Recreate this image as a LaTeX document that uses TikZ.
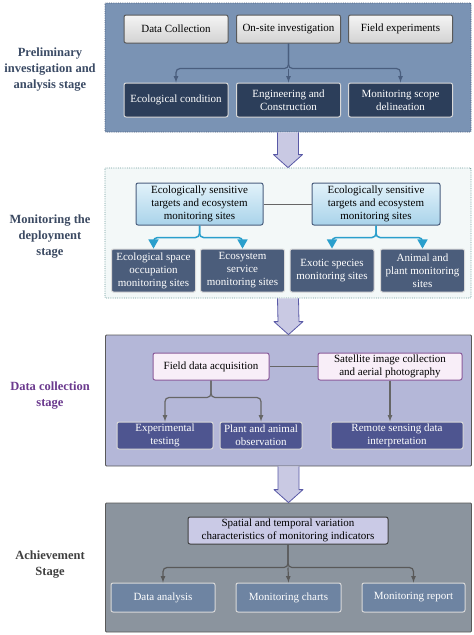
\documentclass[tikz,border=0pt]{standalone}
\usepackage{fontspec}
\setmainfont{Liberation Serif}
\usetikzlibrary{positioning,calc,arrows}

\definecolor{steel}{HTML}{7A93B4}
\definecolor{steeldark}{HTML}{4A5E7E}
\definecolor{navybox}{HTML}{2C3E5A}
\definecolor{paleteal}{HTML}{F3F8F8}
\definecolor{tealline}{HTML}{6E9C9C}
\definecolor{skytop}{HTML}{E2F2FA}
\definecolor{skybot}{HTML}{A9D3EA}
\definecolor{slatebox}{HTML}{4B5D7B}
\definecolor{cyanlink}{HTML}{2A9FCC}
\definecolor{lavender}{HTML}{B4B7D8}
\definecolor{pinkbox}{HTML}{F8EEF8}
\definecolor{plum}{HTML}{8A5A9A}
\definecolor{stageplum}{HTML}{6B3A8E}
\definecolor{indigobox}{HTML}{4E5590}
\definecolor{greypanel}{HTML}{8B949E}
\definecolor{lilacbox}{HTML}{CACAE6}
\definecolor{arrowfill}{HTML}{C9C9E3}

\begin{document}
\begin{tikzpicture}[
x=1pt,y=-1pt,
panel/.style={
  rounded corners=1pt,
  minimum width=366pt,
  minimum height=129pt,
  line width=0.8pt
},
box/.style={
  draw,
  rounded corners=2pt,
  align=center,
  inner sep=1pt,
  line width=1pt,
  font=\fontsize{11}{13}\selectfont
},
greybox/.style={
  box,
  draw=black!65,
  top color=gray!8,
  bottom color=gray!35,
  minimum width=104pt,
  minimum height=28pt
},
darkbox/.style={
  box,
  draw=white!85!black,
  text=white,
  fill=#1
},
skybox/.style={
  box,
  draw=steeldark,
  top color=skytop,
  bottom color=skybot,
  minimum height=42pt
},
pinkish/.style={
  box,
  draw=plum,
  fill=pinkbox,
  minimum height=27pt
},
stage/.style={
  align=center,
  font=\fontsize{12.5}{16}\selectfont\bfseries,
  text=#1
},
link/.style={
  draw=#1,
  line width=1.2pt,
  rounded corners=4pt,
  -latex
},
bigarrow/.style={
  draw=gray!70!blue,
  fill=arrowfill,
  line width=0.8pt,
  line join=round
}
]
\useasboundingbox (0,0) rectangle (474,635);

% stage panels
\node[panel,draw=steeldark,densely dotted,fill=steel] (p1) at (288,67.5) {};
\node[panel,draw=tealline,densely dotted,fill=paleteal,minimum height=130pt] (p2) at (288,233) {};
\node[panel,draw=black!65,fill=lavender,minimum height=131pt] (p3) at (288.5,400.5) {};
\node[panel,draw=black!65,fill=greypanel] (p4) at (288.5,567.5) {};

\node[stage=steeldark!80!black] (s1) at (50,70) {Preliminary\\investigation and\\analysis stage};
\node[stage=slatebox!80!black] (s2) at (50,237) {Monitoring the\\deployment\\stage};
\node[stage=stageplum] (s3) at (50,396) {Data collection\\stage};
\node[stage=black!75] (s4) at (50,565) {Achievement\\Stage};

% preliminary investigation
\node[greybox] (dc) at (176,29) {Data Collection};
\node[greybox] (os) at (288.5,29) {On-site investigation};
\node[greybox] (fe) at (400.5,29) {Field experiments};
\node[darkbox=navybox,minimum width=104pt,minimum height=34pt] (ec) at (176,100) {Ecological condition};
\node[darkbox=navybox,minimum width=104pt,minimum height=34pt] (en) at (288.5,100) {Engineering and\\Construction};
\node[darkbox=navybox,minimum width=104pt,minimum height=34pt] (ms) at (400.5,100) {Monitoring scope\\delineation};

\coordinate (b1) at ([yshift=-25pt]os.south);
\draw[link=steeldark] (os.south) -- (b1) -| (ec.north);
\draw[link=steeldark] (b1) -- (en.north);
\draw[link=steeldark] (os.south) -- (b1) -| (ms.north);

% monitoring deployment
\node[skybox,minimum width=127pt] (es1) at (199.5,204) {Ecologically sensitive\\targets and ecosystem\\monitoring sites};
\node[skybox,minimum width=128pt] (es2) at (376,204) {Ecologically sensitive\\targets and ecosystem\\monitoring sites};
\node[darkbox=slatebox,minimum width=84pt,minimum height=43pt] (sp) at (153.5,270.5) {Ecological space\\occupation\\monitoring sites};
\node[darkbox=slatebox,minimum width=84pt,minimum height=43pt] (sv) at (242.5,270.5) {Ecosystem\\service\\monitoring sites};
\node[darkbox=slatebox,minimum width=84pt,minimum height=43pt] (ex) at (332,270.5) {Exotic species\\monitoring sites};
\node[darkbox=slatebox,minimum width=84pt,minimum height=43pt] (ap) at (422.5,270.5) {Animal and\\plant monitoring\\sites};

\draw[draw=gray!80!black,line width=0.8pt] (es1) -- (es2);
\coordinate (b2) at ([yshift=-12pt]es1.south);
\coordinate (b3) at ([yshift=-12pt]es2.south);
\draw[link=cyanlink,line width=1.5pt,-triangle 60] (es1.south) -- (b2) -| (sp.north);
\draw[link=cyanlink,line width=1.5pt,-triangle 60] (es1.south) -- (b2) -| (sv.north);
\draw[link=cyanlink,line width=1.5pt,-triangle 60] (es2.south) -- (b3) -| (ex.north);
\draw[link=cyanlink,line width=1.5pt,-triangle 60] (es2.south) -- (b3) -| (ap.north);

% data collection
\node[pinkish,minimum width=116pt] (fd) at (211,366.5) {Field data acquisition};
\node[pinkish,minimum width=144pt] (sa) at (390,366.5) {Satellite image collection\\and aerial photography};
\node[darkbox=indigobox,minimum width=96pt,minimum height=27pt] (et) at (165,435.5) {Experimental\\testing};
\node[darkbox=indigobox,minimum width=82pt,minimum height=27pt] (pa) at (261,435.5) {Plant and animal\\observation};
\node[darkbox=indigobox,minimum width=132pt,minimum height=27pt] (rs) at (397,435.5) {Remote sensing data\\interpretation};

\draw[draw=black!60,line width=0.8pt] (fd) -- (sa);
\coordinate (b4) at ([yshift=-17pt]fd.south);
\draw[link=black!60] (fd.south) -- (b4) -| (et.north);
\draw[link=black!60] (fd.south) -- (b4) -| (pa.north);
\draw[link=black!60] (sa.south) -- (sa.south |- rs.north);

% achievement
\node[box,draw=black!75,fill=lilacbox,minimum width=200pt,minimum height=27pt] (sv2) at (288,530.5) {Spatial and temporal variation\\characteristics of monitoring indicators};
\node[darkbox=steel!90!black,minimum width=104pt,minimum height=29pt] (da) at (163,597.5) {Data analysis};
\node[darkbox=steel!90!black,minimum width=105pt,minimum height=29pt] (mc) at (288.5,597.5) {Monitoring charts};
\node[darkbox=steel!90!black,minimum width=103pt,minimum height=29pt] (mr) at (413.5,597.5) {Monitoring report};

\coordinate (b5) at ([yshift=-23pt]sv2.south);
\draw[link=black!65] (sv2.south) -- (b5) -| (da.north);
\draw[link=black!65] (b5) -- (mc.north);
\draw[link=black!65] (sv2.south) -- (b5) -| (mr.north);

% stage arrows
\foreach \a/\b in {p1/p2,p2/p3,p3/p4}
  \draw[bigarrow] ($(\a.south)+(-10.5,0)$) -- ($(\b.north)+(-10.5,-13)$)
    -- ($(\b.north)+(-14.5,-13)$) -- (\b.north) -- ($(\b.north)+(14.5,-13)$)
    -- ($(\b.north)+(10.5,-13)$) -- ($(\a.south)+(10.5,0)$);
\end{tikzpicture}
\end{document}
